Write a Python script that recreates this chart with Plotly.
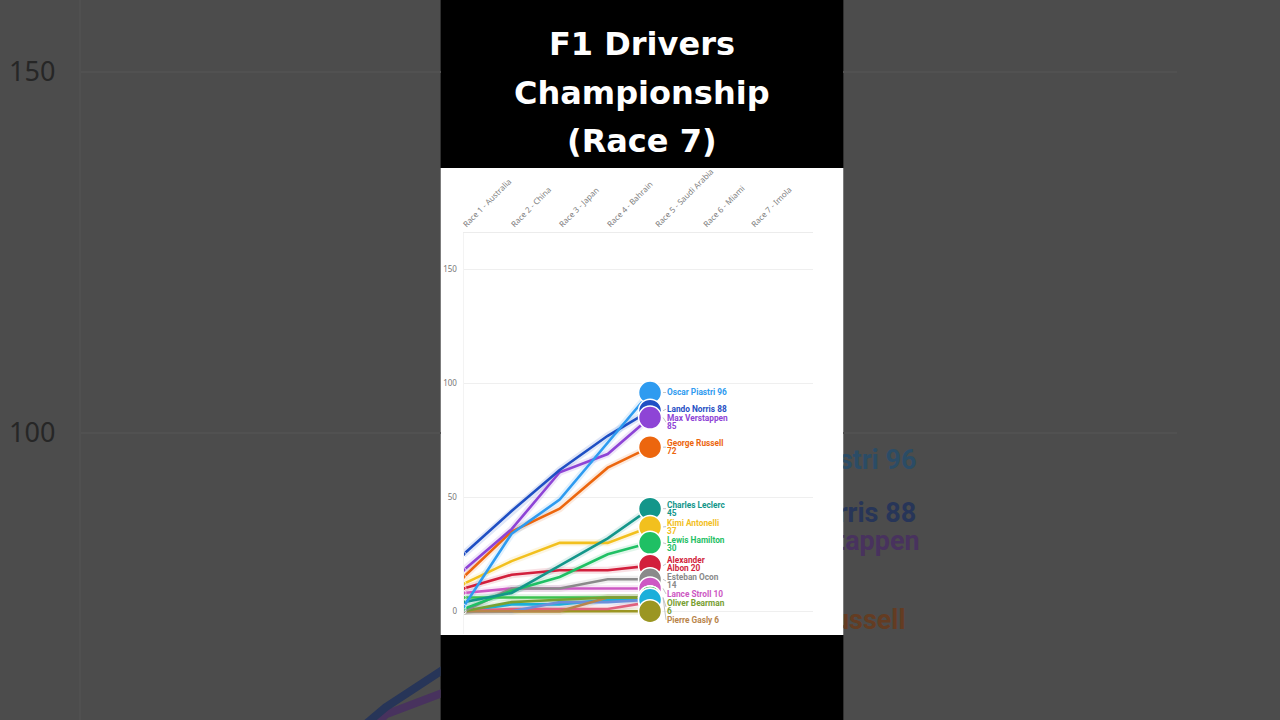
import plotly.graph_objects as go

W, H = 1280, 720

races = ["Race 1 - Australia", "Race 2 - China", "Race 3 - Japan", "Race 4 - Bahrain",
         "Race 5 - Saudi Arabia", "Race 6 - Miami", "Race 7 - Imola"]
race_no = [1, 2, 3, 4, 5, 6, 7]
title_lines = ["F1 Drivers", "Championship", "(Race 7)"]

# the animation frame is caught between race 4 and race 5
frame_pos = 4.88
points_x = [1, 2, 3, 4, frame_pos]

# cumulative points after each race, last value = value shown in this frame
piastri = [2, 34, 49, 74, 96]
norris = [25, 44, 62, 77, 88]
verstappen = [18, 36, 61, 69, 85]
russell = [15, 35, 45, 63, 72]
leclerc = [4, 8, 20, 32, 45]
antonelli = [12, 22, 30, 30, 37]
hamilton = [1, 9, 15, 25, 30]
albon = [10, 16, 18, 18, 20]
ocon = [0, 10, 10, 14, 14]
stroll = [8, 10, 10, 10, 10]
bearman = [0, 4, 5, 6, 6]
gasly = [0, 0, 0, 6, 6]
hulkenberg = [6, 6, 6, 6, 6]
hadjar = [0, 0, 4, 4, 5]
sainz = [0, 1, 1, 1, 4]
tsunoda = [0, 3, 3, 5, 5]
bortoleto = [0, 0, 0, 0, 0]

# name, points, colour, how the label wraps (None = one line, "-" = no label)
drivers = [
    ("Oscar Piastri", piastri, "#2E9BF0", None),
    ("Lando Norris", norris, "#1F4FC4", None),
    ("Max Verstappen", verstappen, "#8E44D6", "val"),
    ("George Russell", russell, "#EC660E", "val"),
    ("Charles Leclerc", leclerc, "#13968A", "val"),
    ("Kimi Antonelli", antonelli, "#F2C01E", "val"),
    ("Lewis Hamilton", hamilton, "#1FC064", "val"),
    ("Alexander Albon", albon, "#D21F3C", "name"),
    ("Esteban Ocon", ocon, "#8A8A8A", "val"),
    ("Lance Stroll", stroll, "#CD58C3", None),
    ("Oliver Bearman", bearman, "#78A032", "val"),
    ("Pierre Gasly", gasly, "#B9854B", None),
    ("Nico Hulkenberg", hulkenberg, "#3BC24F", "-"),
    ("Isack Hadjar", hadjar, "#6C8EDB", "-"),
    ("Carlos Sainz", sainz, "#E0607E", "-"),
    ("Yuki Tsunoda", tsunoda, "#1AAFDA", "-"),
    ("Gabriel Bortoleto", bortoleto, "#9B9622", "-"),
]


def px_x(p):
    return p / W


def px_y(p):
    return 1 - p / H


def ghost(c):
    rgb = [int(c[i:i + 2], 16) for i in (1, 3, 5)]
    return "rgb(%d,%d,%d)" % tuple(int(0.3 * v + 30) for v in rgb)


fig = go.Figure()

# ---- dimmed zoomed copy in the background (left and right of the panel)
for name, vals, col, brk in reversed(drivers):
    fig.add_trace(go.Scatter(x=points_x, y=vals, mode="lines", xaxis="x", yaxis="y",
                             line=dict(color=ghost(col), width=8), hoverinfo="skip"))

# ---- main chart lines
for name, vals, col, brk in reversed(drivers):
    fig.add_trace(go.Scatter(x=points_x, y=vals, mode="lines", xaxis="x3", yaxis="y3",
                             line=dict(color=col, width=7), opacity=0.13, hoverinfo="skip"))
for name, vals, col, brk in reversed(drivers):
    fig.add_trace(go.Scatter(x=points_x, y=vals, mode="lines+markers", xaxis="x3", yaxis="y3",
                             line=dict(color=col, width=2.6),
                             marker=dict(size=[5, 0, 0, 0, 0], color=col),
                             name=name))

# circles at the head of each line
fig.add_trace(go.Scatter(
    x=[frame_pos] * len(drivers), y=[d[1][-1] for d in drivers],
    mode="markers", xaxis="x3", yaxis="y3",
    marker=dict(size=23, color=[d[2] for d in drivers], line=dict(color="white", width=1.5)),
    text=[d[0] for d in drivers], hoverinfo="text"))

# ---- labels, spread apart so they do not overlap
LINE = 3.6
PAD = 0.3
label_x = frame_pos + 0.33
labelled = [d for d in drivers if d[3] != "-"]
heights = [LINE * (1 if d[3] is None else 2) for d in labelled]
ys = [d[1][-1] for d in labelled]
for _ in range(300):
    for i in range(len(ys) - 1):
        need = heights[i] / 2 + heights[i + 1] / 2 + PAD
        gap = ys[i] - ys[i + 1]
        if gap < need:
            d = need - gap
            ys[i] += 0.25 * d
            ys[i + 1] -= 0.75 * d

annotations = []
shapes = []
for (name, vals, col, brk), y, h in zip(labelled, ys, heights):
    v = vals[-1]
    if brk is None:
        lines = ["%s %d" % (name, v)]
    elif brk == "val":
        lines = [name, str(v)]
    else:
        first, rest = name.split(" ", 1)
        lines = [first, "%s %d" % (rest, v)]
    n = len(lines)
    for i, t in enumerate(lines):
        ly = y + (n - 1) * LINE / 2 - i * LINE
        annotations.append(dict(x=label_x, y=ly, xref="x3", yref="y3", text="<b>%s</b>" % t,
                                showarrow=False, xanchor="left", yanchor="middle", borderpad=0,
                                font=dict(family="Roboto", size=8.3, color=col)))
        fig.add_trace(go.Scatter(x=[label_x], y=[ly], mode="text", xaxis="x2", yaxis="y2",
                                 text=["<b>%s</b>" % t], textposition="middle right",
                                 textfont=dict(family="Roboto", size=27, color=ghost(col)),
                                 hoverinfo="skip"))
    shapes.append(dict(type="line", xref="x3", yref="y3", xsizemode="pixel", xanchor=frame_pos,
                       x0=13, x1=16, y0=v, y1=y, line=dict(color="#c4c4c4", width=1)))

# ---- panel backgrounds
shapes = [
    dict(type="rect", xref="paper", yref="paper", x0=px_x(438), x1=px_x(842), y0=0, y1=1,
         fillcolor="black", line=dict(width=0), layer="below"),
    dict(type="rect", xref="paper", yref="paper", x0=px_x(438), x1=px_x(842),
         y0=px_y(635), y1=px_y(168), fillcolor="white", line=dict(width=0), layer="below"),
] + shapes

for t, cy in zip(title_lines, [44, 93, 141]):
    annotations.append(dict(x=0.5, y=px_y(cy), xref="paper", yref="paper", text="<b>%s</b>" % t,
                            showarrow=False, xanchor="center", yanchor="middle",
                            font=dict(family="DejaVu Sans", size=32, color="white")))

ghost_range = [60.25, 159.97]

fig.update_layout(
    width=W, height=H, margin=dict(l=0, r=0, t=0, b=0),
    paper_bgcolor="#4c4c4c", plot_bgcolor="rgba(0,0,0,0)",
    showlegend=False, shapes=shapes, annotations=annotations,
    xaxis=dict(domain=[px_x(77), px_x(438)], range=[1, 3.3626], anchor="y",
               showgrid=False, zeroline=False, showticklabels=False),
    yaxis=dict(domain=[0, 1], range=ghost_range, anchor="x", tickvals=[100, 150],
               gridcolor="#515151", gridwidth=2, zeroline=False, showline=True,
               linecolor="#505050", linewidth=2, ticklabelstandoff=18,
               tickfont=dict(family="Noto Sans", size=27, color="#262626")),
    xaxis2=dict(domain=[px_x(842), px_x(1177)], range=[6.0065, 8.199], anchor="y2",
                showgrid=False, zeroline=False, showticklabels=False),
    yaxis2=dict(domain=[0, 1], range=ghost_range, anchor="x2", tickvals=[100, 150],
                gridcolor="#515151", gridwidth=2, zeroline=False, showticklabels=False),
    xaxis3=dict(domain=[px_x(461), px_x(812)], range=[1, 8.28], anchor="y3", side="top",
                tickvals=race_no, ticktext=races, tickangle=-45, showgrid=False,
                zeroline=False, showline=True, linecolor="#ececec",
                tickfont=dict(family="Noto Sans", size=8, color="#808080")),
    yaxis3=dict(domain=[px_y(634), px_y(233)], range=[-10, 166], anchor="x3",
                tickvals=[0, 50, 100, 150], gridcolor="#efefef", zeroline=False,
                showline=True, linecolor="#f3f3f3", ticklabelstandoff=4,
                tickfont=dict(family="Noto Sans", size=8, color="#777777")),
)

fig.write_html("out.html", config={"displayModeBar": False},
               post_script="document.body.style.margin='0';document.body.style.overflow='hidden';")
